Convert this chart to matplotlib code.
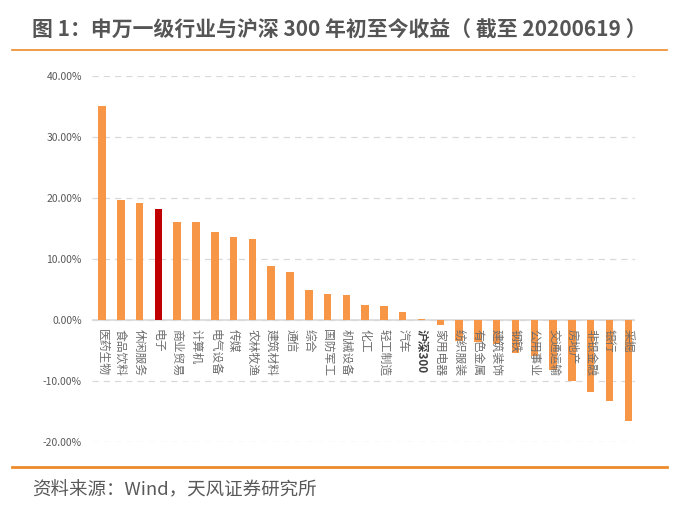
"""
申万一级行业年初至今收益 bar chart
"""
import matplotlib.pyplot as plt
from matplotlib.lines import Line2D
from matplotlib.ticker import FuncFormatter

plt.rcParams['font.family'] = ['Noto Sans CJK SC', 'DejaVu Sans']

industries = ["医药生物", "食品饮料", "休闲服务", "电子", "商业贸易", "计算机", "电气设备",
              "传媒", "农林牧渔", "建筑材料", "通信", "综合", "国防军工", "机械设备", "化工",
              "轻工制造", "汽车", "沪深300", "家用电器", "纺织服装", "有色金属", "建筑装饰",
              "钢铁", "公用事业", "交通运输", "房地产", "非银金融", "银行", "采掘"]
returns = [35.1, 19.6, 19.2, 18.2, 16.1, 16.0, 14.4, 13.6, 13.3, 8.9, 7.8, 4.9, 4.2, 4.1, 2.5,
           2.2, 1.2, 0.2, -0.8, -3.5, -3.7, -4.0, -5.5, -6.0, -8.3, -10.0, -11.9, -13.3, -16.6]
highlight = "电子"
yticks = [-20, -10, 0, 10, 20, 30, 40]

orange = "#F79646"
red = "#C00000"
gray = "#595959"

fig = plt.figure(figsize=(6.89, 5.13), dpi=100)
ax = fig.add_axes([0.133, 0.139, 0.789, 0.713])

colors = [red if n == highlight else orange for n in industries]
x = range(len(industries))
ax.bar(x, returns, width=0.4, color=colors, zorder=3)

ax.set_xlim(-0.55, len(industries) - 0.63)
ax.set_ylim(-20, 40)
ax.set_yticks(yticks)
ax.yaxis.set_major_formatter(FuncFormatter(lambda v, p: f"{v:.2f}%"))
ax.tick_params(axis="y", length=0, labelsize=7.5, labelcolor=gray, pad=7)
ax.set_xticks([])
for s in ax.spines.values():
    s.set_visible(False)
ax.grid(axis="y", color="#D9D9D9", linestyle=(0, (5, 4)), linewidth=0.9, zorder=0)
ax.axhline(0, color="#D9D9D9", linewidth=1.2, zorder=2)

# category labels under the zero line, reading top to bottom
for i, name in enumerate(industries):
    bold = name == "沪深300"
    ax.annotate(name, (i, 0), xytext=(0, -6.5), textcoords="offset points",
                rotation=-90, ha="center", va="top", fontsize=8.5,
                color="#404040" if bold else "#6E6E6E",
                fontweight="bold" if bold else "normal", zorder=4)

# title, rules and source note
fig.text(0.046, 0.941, "图 1：申万一级行业与沪深 300 年初至今收益（ 截至 20200619 ）",
         fontsize=15, fontweight="bold", color="#555555", va="center")
fig.add_artist(Line2D([0.017, 0.968], [0.903, 0.903], color="#EE8A2A", linewidth=1.2))
fig.add_artist(Line2D([0.017, 0.968], [0.09, 0.09], color="#EE8A2A", linewidth=2))
fig.text(0.046, 0.045, "资料来源：Wind，天风证券研究所", fontsize=13.3,
         color=gray, va="center")

fig.savefig("out.png", dpi=100)
